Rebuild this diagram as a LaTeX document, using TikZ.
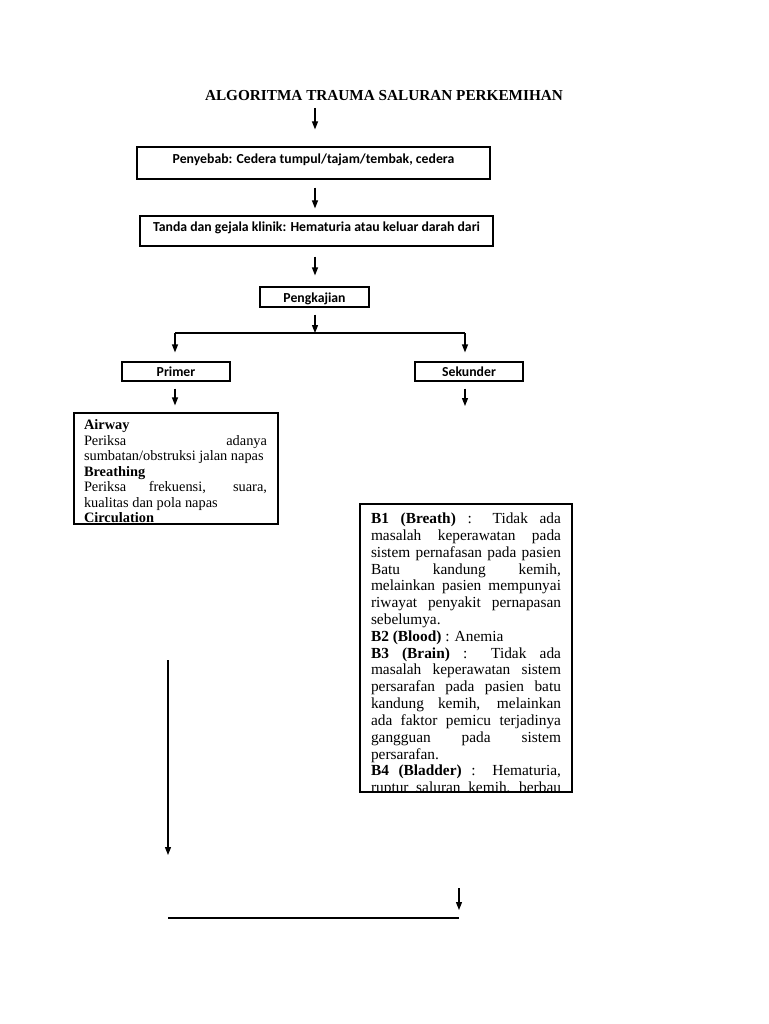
\documentclass[tikz,border=0pt]{standalone}
\usepackage{fontspec}
\setmainfont{Liberation Serif}
\newfontfamily\boxfont{Carlito}
\usetikzlibrary{arrows.meta,positioning}
\newcommand{\pxu}{0.8pt}
\hyphenpenalty=10000
\exhyphenpenalty=10000
\begin{document}
\begin{tikzpicture}[
    x=0.8pt, y=-0.8pt,
    line width=0.9pt,
    arr/.style={-{Triangle[length=6.4pt,width=4.8pt]}, line width=0.9pt, draw=black},
    lbl/.style={rectangle, draw=black, line width=0.9pt, inner sep=0pt},
    lbltxt/.style={inner sep=0pt, font=\boxfont\bfseries\fontsize{11}{13}\selectfont},
    txt/.style={anchor=north west, inner sep=0pt, align=justify}
  ]
  \useasboundingbox[fill=white] (0,0) rectangle (768,1024);

  \node[inner sep=0pt, font=\bfseries\fontsize{12.2}{14}\selectfont] (title) at (384,96) {ALGORITMA TRAUMA SALURAN PERKEMIHAN};
  \coordinate (t0) at (315,108);

  \node[lbl, minimum width={353*\pxu}, minimum height={32*\pxu}] (pen) at (313.5,163) {};
  \node[lbltxt] (pentxt) at (313.5,160) {Penyebab: Cedera tumpul/tajam/tembak, cedera};
  \node[lbl, minimum width={353*\pxu}, minimum height={30*\pxu}] (tan) at (316.5,231) {};
  \node[lbltxt] (tantxt) at (316.5,228) {Tanda dan gejala klinik: Hematuria atau keluar darah dari};
  \node[lbl, minimum width={109*\pxu}, minimum height={20*\pxu}] (peng) at (314.5,297) {};
  \begin{scope}
    \clip (peng.north west) rectangle (peng.south east);
    \node[lbltxt] (pengtxt) at (314.5,298.5) {Pengkajian};
  \end{scope}
  \node[lbl, lbltxt, minimum width={108*\pxu}, minimum height={19*\pxu}] (pri) at (176,371.5) {Primer};
  \node[lbl, lbltxt, minimum width={108*\pxu}, minimum height={19*\pxu}] (sek) at (469,371.5) {Sekunder};

  \coordinate (split) at (315,333);
  \coordinate (lft) at (175,333);
  \coordinate (rgt) at (465,333);
  \coordinate (sekend) at (465,406);

  \node[lbl, minimum width={204*\pxu}, minimum height={111*\pxu}] (air) at (176,468.5) {};
  \node[txt, text width={183*\pxu}, font=\fontsize{11.5}{12.4}\selectfont] (airtxt) at ([shift={(10,7)}]air.north west) {%
    \textbf{Airway}\\
    Periksa adanya\linebreak
    sumbatan/obstruksi jalan napas\\
    \textbf{Breathing}\\
    Periksa frekuensi, suara,\linebreak
    kualitas dan pola napas\\
    \textbf{Circulation}};

  \node[lbl, minimum width={212*\pxu}, minimum height={288*\pxu}] (bbox) at (466,648) {};
  \begin{scope}
    \clip (bbox.north west) rectangle (bbox.south east);
    \node[txt, text width={190*\pxu}, font=\fontsize{12.3}{13.45}\selectfont] (btxt) at ([shift={(11,9)}]bbox.north west) {%
      \textbf{B1 (Breath)} : Tidak ada\linebreak
      masalah keperawatan pada\linebreak
      sistem pernafasan pada pasien\linebreak
      Batu kandung kemih,\linebreak
      melainkan pasien mempunyai\linebreak
      riwayat penyakit pernapasan\linebreak
      sebelumya.\\
      \textbf{B2 (Blood)} : Anemia\\
      \textbf{B3 (Brain)} : Tidak ada\linebreak
      masalah keperawatan sistem\linebreak
      persarafan pada pasien batu\linebreak
      kandung kemih, melainkan\linebreak
      ada faktor pemicu terjadinya\linebreak
      gangguan pada sistem\linebreak
      persarafan.\\
      \textbf{B4 (Bladder)} : Hematuria,\linebreak
      ruptur saluran kemih, berbau\linebreak
      \mbox{}};
  \end{scope}

  \coordinate (la) at (168,660);
  \coordinate (lb) at (168,855);
  \coordinate (sa) at (459,888);
  \coordinate (sb) at (459,910);
  \coordinate (l1) at (168,918);
  \coordinate (l2) at (459,918);

  \draw[arr, shorten >=13.6pt] (t0) -- (t0 |- pen.north);
  \draw[arr, shorten <=6.4pt, shorten >=5.6pt] (pen.south -| t0) -- (tan.north -| t0);
  \draw[arr, shorten <=8pt, shorten >=8.8pt] (tan.south -| t0) -- (peng.north -| t0);
  \draw[arr, shorten <=5.6pt] (peng.south -| split) -- (split);
  \draw (lft) -- (rgt);
  \draw[arr, shorten >=7.2pt] (lft) -- (lft |- pri.north);
  \draw[arr, shorten >=7.2pt] (rgt) -- (rgt |- sek.north);
  \draw[arr, shorten <=5.6pt, shorten >=5.6pt] (pri.south -| lft) -- (air.north -| lft);
  \draw[arr, shorten <=5.6pt] (sek.south -| sekend) -- (sekend);
  \draw[arr] (la) -- (lb);
  \draw[arr] (sa) -- (sb);
  \draw (l1) -- (l2);
\end{tikzpicture}
\end{document}
